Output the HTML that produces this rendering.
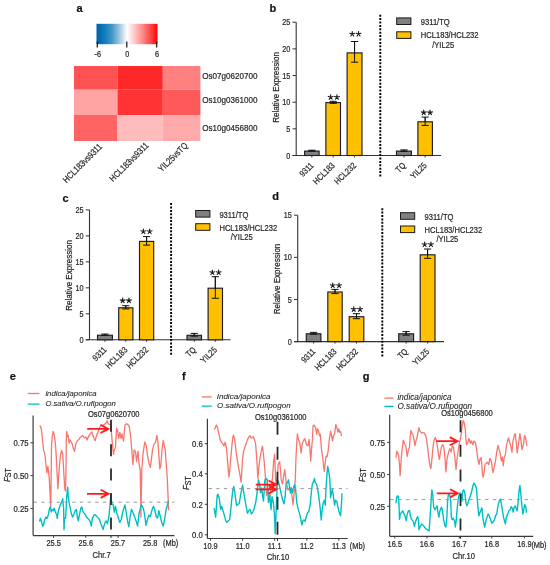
<!DOCTYPE html>
<html><head><meta charset="utf-8"><style>
html,body{margin:0;padding:0;background:#fff;width:550px;height:565px;overflow:hidden}
svg{display:block;font-family:"Liberation Sans", sans-serif;will-change:transform}
text{stroke:#262626;stroke-width:0.22px;paint-order:stroke}
.thin{stroke-width:0.08px}
</style></head><body>
<svg width="550" height="565" viewBox="0 0 550 565">
<rect width="550" height="565" fill="#fff"/>
<text x="76.40" y="11.60" font-size="11" text-anchor="start" font-weight="bold" font-style="normal" fill="#111" >a</text>
<text x="269.60" y="12.00" font-size="11" text-anchor="start" font-weight="bold" font-style="normal" fill="#111" >b</text>
<text x="62.60" y="201.60" font-size="11" text-anchor="start" font-weight="bold" font-style="normal" fill="#111" >c</text>
<text x="272.20" y="200.10" font-size="11" text-anchor="start" font-weight="bold" font-style="normal" fill="#111" >d</text>
<text x="9.80" y="379.50" font-size="11" text-anchor="start" font-weight="bold" font-style="normal" fill="#111" >e</text>
<text x="182.00" y="379.50" font-size="11" text-anchor="start" font-weight="bold" font-style="normal" fill="#111" >f</text>
<text x="362.70" y="379.50" font-size="11" text-anchor="start" font-weight="bold" font-style="normal" fill="#111" >g</text>
<defs><linearGradient id="cb" x1="0" x2="1" y1="0" y2="0"><stop offset="0" stop-color="#005fa8"/><stop offset="0.12" stop-color="#0b7ab8"/><stop offset="0.25" stop-color="#4296c6"/><stop offset="0.37" stop-color="#98c3dd"/><stop offset="0.45" stop-color="#d8e9f2"/><stop offset="0.5" stop-color="#ffffff"/><stop offset="0.6" stop-color="#ffd2d2"/><stop offset="0.75" stop-color="#ff8c8c"/><stop offset="0.9" stop-color="#ff4040"/><stop offset="1" stop-color="#ff0000"/></linearGradient></defs>
<rect x="96.50" y="23.80" width="61.00" height="20.40" fill="url(#cb)" stroke="none" stroke-width="1.0" />
<line x1="97.30" y1="41.60" x2="97.30" y2="47.40" stroke="#111" stroke-width="1.2" />
<text transform="translate(97.70,56.50) scale(0.8333,1)" font-size="8.76" text-anchor="middle" font-weight="normal" font-style="normal" fill="#262626" >-6</text>
<line x1="126.80" y1="41.60" x2="126.80" y2="47.40" stroke="#111" stroke-width="1.2" />
<text transform="translate(127.20,56.50) scale(0.8333,1)" font-size="8.76" text-anchor="middle" font-weight="normal" font-style="normal" fill="#262626" >0</text>
<line x1="156.70" y1="41.60" x2="156.70" y2="47.40" stroke="#111" stroke-width="1.2" />
<text transform="translate(157.10,56.50) scale(0.8333,1)" font-size="8.76" text-anchor="middle" font-weight="normal" font-style="normal" fill="#262626" >6</text>
<rect x="74.00" y="66.00" width="43.50" height="23.70" fill="#ff5252" stroke="none" stroke-width="1.0" />
<rect x="117.50" y="66.00" width="45.30" height="23.70" fill="#ff2828" stroke="none" stroke-width="1.0" />
<rect x="162.80" y="66.00" width="37.60" height="23.70" fill="#ff8080" stroke="none" stroke-width="1.0" />
<rect x="74.00" y="89.70" width="43.50" height="25.30" fill="#ffa3a3" stroke="none" stroke-width="1.0" />
<rect x="117.50" y="89.70" width="45.30" height="25.30" fill="#ff3333" stroke="none" stroke-width="1.0" />
<rect x="162.80" y="89.70" width="37.60" height="25.30" fill="#ff5a5a" stroke="none" stroke-width="1.0" />
<rect x="74.00" y="115.00" width="43.50" height="26.00" fill="#ff6464" stroke="none" stroke-width="1.0" />
<rect x="117.50" y="115.00" width="45.30" height="26.00" fill="#ffbcbc" stroke="none" stroke-width="1.0" />
<rect x="162.80" y="115.00" width="37.60" height="26.00" fill="#ffaaaa" stroke="none" stroke-width="1.0" />
<text transform="translate(202.20,79.10) scale(0.8333,1)" font-size="9.72" text-anchor="start" font-weight="normal" font-style="normal" fill="#262626" >Os07g0620700</text>
<text transform="translate(202.20,102.70) scale(0.8333,1)" font-size="9.72" text-anchor="start" font-weight="normal" font-style="normal" fill="#262626" >Os10g0361000</text>
<text transform="translate(202.20,130.50) scale(0.8333,1)" font-size="9.72" text-anchor="start" font-weight="normal" font-style="normal" fill="#262626" >Os10g0456800</text>
<text transform="translate(102.60,147.30) rotate(-45) scale(0.8333,1)" font-size="9.00" text-anchor="end" fill="#262626">HCL183vs9311</text>
<text transform="translate(149.20,146.10) rotate(-45) scale(0.8333,1)" font-size="9.00" text-anchor="end" fill="#262626">HCL183vs9311</text>
<text transform="translate(188.30,146.10) rotate(-45) scale(0.8333,1)" font-size="9.00" text-anchor="end" fill="#262626">YIL25vsTQ</text>
<line x1="296.20" y1="22.25" x2="296.20" y2="155.50" stroke="#333" stroke-width="1.1" />
<line x1="292.50" y1="22.25" x2="296.20" y2="22.25" stroke="#333" stroke-width="1.0" />
<text transform="translate(290.30,25.35) scale(0.8333,1)" font-size="8.76" text-anchor="end" font-weight="normal" font-style="normal" fill="#262626" >25</text>
<line x1="292.50" y1="48.90" x2="296.20" y2="48.90" stroke="#333" stroke-width="1.0" />
<text transform="translate(290.30,52.00) scale(0.8333,1)" font-size="8.76" text-anchor="end" font-weight="normal" font-style="normal" fill="#262626" >20</text>
<line x1="292.50" y1="75.55" x2="296.20" y2="75.55" stroke="#333" stroke-width="1.0" />
<text transform="translate(290.30,78.65) scale(0.8333,1)" font-size="8.76" text-anchor="end" font-weight="normal" font-style="normal" fill="#262626" >15</text>
<line x1="292.50" y1="102.20" x2="296.20" y2="102.20" stroke="#333" stroke-width="1.0" />
<text transform="translate(290.30,105.30) scale(0.8333,1)" font-size="8.76" text-anchor="end" font-weight="normal" font-style="normal" fill="#262626" >10</text>
<line x1="292.50" y1="128.85" x2="296.20" y2="128.85" stroke="#333" stroke-width="1.0" />
<text transform="translate(290.30,131.95) scale(0.8333,1)" font-size="8.76" text-anchor="end" font-weight="normal" font-style="normal" fill="#262626" >5</text>
<line x1="292.50" y1="155.50" x2="296.20" y2="155.50" stroke="#333" stroke-width="1.0" />
<text transform="translate(290.30,158.60) scale(0.8333,1)" font-size="8.76" text-anchor="end" font-weight="normal" font-style="normal" fill="#262626" >0</text>
<line x1="292.50" y1="155.50" x2="441.20" y2="155.50" stroke="#333" stroke-width="1.1" />
<text transform="translate(278.60,87.40) rotate(-90) scale(0.8333,1)" font-size="9.60" text-anchor="middle" fill="#262626">Relative Expression</text>
<line x1="380.30" y1="14.70" x2="380.30" y2="176.70" stroke="#000" stroke-width="1.9" stroke-dasharray="2.0 1.4"/>
<line x1="311.85" y1="150.20" x2="311.85" y2="151.20" stroke="#111" stroke-width="1.0" />
<line x1="308.25" y1="150.20" x2="315.45" y2="150.20" stroke="#111" stroke-width="1.0" />
<line x1="308.25" y1="151.20" x2="315.45" y2="151.20" stroke="#111" stroke-width="1.0" />
<rect x="304.60" y="151.10" width="14.50" height="4.40" fill="#808080" stroke="#1c1c2c" stroke-width="1.15" />
<line x1="311.85" y1="150.20" x2="311.85" y2="151.20" stroke="#111" stroke-width="1.0" />
<line x1="308.25" y1="151.20" x2="315.45" y2="151.20" stroke="#111" stroke-width="1.0" />
<line x1="311.85" y1="155.50" x2="311.85" y2="157.50" stroke="#333" stroke-width="1.0" />
<text transform="translate(314.05,166.10) rotate(-45) scale(0.8333,1)" font-size="8.76" text-anchor="end" fill="#262626">9311</text>
<line x1="333.20" y1="101.30" x2="333.20" y2="103.30" stroke="#111" stroke-width="1.0" />
<line x1="329.60" y1="101.30" x2="336.80" y2="101.30" stroke="#111" stroke-width="1.0" />
<line x1="329.60" y1="103.30" x2="336.80" y2="103.30" stroke="#111" stroke-width="1.0" />
<rect x="325.90" y="102.60" width="14.60" height="52.90" fill="#ffc000" stroke="#1c1c2c" stroke-width="1.15" />
<line x1="333.20" y1="101.30" x2="333.20" y2="103.30" stroke="#111" stroke-width="1.0" />
<line x1="329.60" y1="103.30" x2="336.80" y2="103.30" stroke="#111" stroke-width="1.0" />
<line x1="333.20" y1="155.50" x2="333.20" y2="157.50" stroke="#333" stroke-width="1.0" />
<text transform="translate(335.40,166.10) rotate(-45) scale(0.8333,1)" font-size="8.76" text-anchor="end" fill="#262626">HCL183</text>
<path d="M330.65,97.20L330.65,94.70M330.65,97.20L333.03,96.43M330.65,97.20L332.12,99.22M330.65,97.20L329.18,99.22M330.65,97.20L328.27,96.43" stroke="#1a1a1a" stroke-width="1.15" stroke-linecap="round" fill="none"/>
<path d="M336.95,97.20L336.95,94.70M336.95,97.20L339.33,96.43M336.95,97.20L338.42,99.22M336.95,97.20L335.48,99.22M336.95,97.20L334.57,96.43" stroke="#1a1a1a" stroke-width="1.15" stroke-linecap="round" fill="none"/>
<line x1="354.55" y1="41.50" x2="354.55" y2="62.20" stroke="#111" stroke-width="1.0" />
<line x1="350.95" y1="41.50" x2="358.15" y2="41.50" stroke="#111" stroke-width="1.0" />
<line x1="350.95" y1="62.20" x2="358.15" y2="62.20" stroke="#111" stroke-width="1.0" />
<rect x="347.10" y="52.90" width="14.90" height="102.60" fill="#ffc000" stroke="#1c1c2c" stroke-width="1.15" />
<line x1="354.55" y1="41.50" x2="354.55" y2="62.20" stroke="#111" stroke-width="1.0" />
<line x1="350.95" y1="62.20" x2="358.15" y2="62.20" stroke="#111" stroke-width="1.0" />
<line x1="354.55" y1="155.50" x2="354.55" y2="157.50" stroke="#333" stroke-width="1.0" />
<text transform="translate(356.75,166.10) rotate(-45) scale(0.8333,1)" font-size="8.76" text-anchor="end" fill="#262626">HCL232</text>
<path d="M352.25,34.00L352.25,31.50M352.25,34.00L354.63,33.23M352.25,34.00L353.72,36.02M352.25,34.00L350.78,36.02M352.25,34.00L349.87,33.23" stroke="#1a1a1a" stroke-width="1.15" stroke-linecap="round" fill="none"/>
<path d="M358.55,34.00L358.55,31.50M358.55,34.00L360.93,33.23M358.55,34.00L360.02,36.02M358.55,34.00L357.08,36.02M358.55,34.00L356.17,33.23" stroke="#1a1a1a" stroke-width="1.15" stroke-linecap="round" fill="none"/>
<line x1="403.95" y1="149.90" x2="403.95" y2="151.30" stroke="#111" stroke-width="1.0" />
<line x1="400.35" y1="149.90" x2="407.55" y2="149.90" stroke="#111" stroke-width="1.0" />
<line x1="400.35" y1="151.30" x2="407.55" y2="151.30" stroke="#111" stroke-width="1.0" />
<rect x="396.50" y="151.10" width="14.90" height="4.40" fill="#808080" stroke="#1c1c2c" stroke-width="1.15" />
<line x1="403.95" y1="149.90" x2="403.95" y2="151.30" stroke="#111" stroke-width="1.0" />
<line x1="400.35" y1="151.30" x2="407.55" y2="151.30" stroke="#111" stroke-width="1.0" />
<line x1="403.95" y1="155.50" x2="403.95" y2="157.50" stroke="#333" stroke-width="1.0" />
<text transform="translate(406.15,166.10) rotate(-45) scale(0.8333,1)" font-size="8.76" text-anchor="end" fill="#262626">TQ</text>
<line x1="425.15" y1="117.10" x2="425.15" y2="125.40" stroke="#111" stroke-width="1.0" />
<line x1="421.55" y1="117.10" x2="428.75" y2="117.10" stroke="#111" stroke-width="1.0" />
<line x1="421.55" y1="125.40" x2="428.75" y2="125.40" stroke="#111" stroke-width="1.0" />
<rect x="417.90" y="121.80" width="14.50" height="33.70" fill="#ffc000" stroke="#1c1c2c" stroke-width="1.15" />
<line x1="425.15" y1="117.10" x2="425.15" y2="125.40" stroke="#111" stroke-width="1.0" />
<line x1="421.55" y1="125.40" x2="428.75" y2="125.40" stroke="#111" stroke-width="1.0" />
<line x1="425.15" y1="155.50" x2="425.15" y2="157.50" stroke="#333" stroke-width="1.0" />
<text transform="translate(427.35,166.10) rotate(-45) scale(0.8333,1)" font-size="8.76" text-anchor="end" fill="#262626">YIL25</text>
<path d="M423.75,112.60L423.75,110.10M423.75,112.60L426.13,111.83M423.75,112.60L425.22,114.62M423.75,112.60L422.28,114.62M423.75,112.60L421.37,111.83" stroke="#1a1a1a" stroke-width="1.15" stroke-linecap="round" fill="none"/>
<path d="M430.05,112.60L430.05,110.10M430.05,112.60L432.43,111.83M430.05,112.60L431.52,114.62M430.05,112.60L428.58,114.62M430.05,112.60L427.67,111.83" stroke="#1a1a1a" stroke-width="1.15" stroke-linecap="round" fill="none"/>
<rect x="396.70" y="17.90" width="14.20" height="6.60" fill="#808080" stroke="#1a1a1a" stroke-width="1.0" />
<rect x="396.70" y="31.80" width="14.20" height="6.60" fill="#ffc000" stroke="#1a1a1a" stroke-width="1.0" />
<text transform="translate(420.80,24.50) scale(0.8333,1)" font-size="9.12" text-anchor="start" font-weight="normal" font-style="normal" fill="#262626" >9311/TQ</text>
<text transform="translate(420.80,38.20) scale(0.8333,1)" font-size="9.12" text-anchor="start" font-weight="normal" font-style="normal" fill="#262626" >HCL183/HCL232</text>
<text transform="translate(432.20,47.60) scale(0.8333,1)" font-size="9.12" text-anchor="start" font-weight="normal" font-style="normal" fill="#262626" >/YIL25</text>
<line x1="89.50" y1="209.90" x2="89.50" y2="339.80" stroke="#333" stroke-width="1.1" />
<line x1="85.80" y1="209.90" x2="89.50" y2="209.90" stroke="#333" stroke-width="1.0" />
<text transform="translate(83.60,213.00) scale(0.8333,1)" font-size="8.76" text-anchor="end" font-weight="normal" font-style="normal" fill="#262626" >25</text>
<line x1="85.80" y1="235.88" x2="89.50" y2="235.88" stroke="#333" stroke-width="1.0" />
<text transform="translate(83.60,238.98) scale(0.8333,1)" font-size="8.76" text-anchor="end" font-weight="normal" font-style="normal" fill="#262626" >20</text>
<line x1="85.80" y1="261.86" x2="89.50" y2="261.86" stroke="#333" stroke-width="1.0" />
<text transform="translate(83.60,264.96) scale(0.8333,1)" font-size="8.76" text-anchor="end" font-weight="normal" font-style="normal" fill="#262626" >15</text>
<line x1="85.80" y1="287.84" x2="89.50" y2="287.84" stroke="#333" stroke-width="1.0" />
<text transform="translate(83.60,290.94) scale(0.8333,1)" font-size="8.76" text-anchor="end" font-weight="normal" font-style="normal" fill="#262626" >10</text>
<line x1="85.80" y1="313.82" x2="89.50" y2="313.82" stroke="#333" stroke-width="1.0" />
<text transform="translate(83.60,316.92) scale(0.8333,1)" font-size="8.76" text-anchor="end" font-weight="normal" font-style="normal" fill="#262626" >5</text>
<line x1="85.80" y1="339.80" x2="89.50" y2="339.80" stroke="#333" stroke-width="1.0" />
<text transform="translate(83.60,342.90) scale(0.8333,1)" font-size="8.76" text-anchor="end" font-weight="normal" font-style="normal" fill="#262626" >0</text>
<line x1="85.80" y1="339.80" x2="230.60" y2="339.80" stroke="#333" stroke-width="1.1" />
<text transform="translate(71.80,275.40) rotate(-90) scale(0.8333,1)" font-size="9.60" text-anchor="middle" fill="#262626">Relative Expression</text>
<line x1="171.10" y1="203.10" x2="171.10" y2="355.80" stroke="#000" stroke-width="1.9" stroke-dasharray="2.0 1.4"/>
<line x1="104.95" y1="334.00" x2="104.95" y2="335.40" stroke="#111" stroke-width="1.0" />
<line x1="101.35" y1="334.00" x2="108.55" y2="334.00" stroke="#111" stroke-width="1.0" />
<line x1="101.35" y1="335.40" x2="108.55" y2="335.40" stroke="#111" stroke-width="1.0" />
<rect x="97.50" y="335.20" width="14.90" height="4.60" fill="#808080" stroke="#1c1c2c" stroke-width="1.15" />
<line x1="104.95" y1="334.00" x2="104.95" y2="335.40" stroke="#111" stroke-width="1.0" />
<line x1="101.35" y1="335.40" x2="108.55" y2="335.40" stroke="#111" stroke-width="1.0" />
<line x1="104.95" y1="339.80" x2="104.95" y2="341.80" stroke="#333" stroke-width="1.0" />
<text transform="translate(107.15,350.40) rotate(-45) scale(0.8333,1)" font-size="8.76" text-anchor="end" fill="#262626">9311</text>
<line x1="125.80" y1="305.70" x2="125.80" y2="308.90" stroke="#111" stroke-width="1.0" />
<line x1="122.20" y1="305.70" x2="129.40" y2="305.70" stroke="#111" stroke-width="1.0" />
<line x1="122.20" y1="308.90" x2="129.40" y2="308.90" stroke="#111" stroke-width="1.0" />
<rect x="118.70" y="307.80" width="14.20" height="32.00" fill="#ffc000" stroke="#1c1c2c" stroke-width="1.15" />
<line x1="125.80" y1="305.70" x2="125.80" y2="308.90" stroke="#111" stroke-width="1.0" />
<line x1="122.20" y1="308.90" x2="129.40" y2="308.90" stroke="#111" stroke-width="1.0" />
<line x1="125.80" y1="339.80" x2="125.80" y2="341.80" stroke="#333" stroke-width="1.0" />
<text transform="translate(128.00,350.40) rotate(-45) scale(0.8333,1)" font-size="8.76" text-anchor="end" fill="#262626">HCL183</text>
<path d="M122.65,300.60L122.65,298.10M122.65,300.60L125.03,299.83M122.65,300.60L124.12,302.62M122.65,300.60L121.18,302.62M122.65,300.60L120.27,299.83" stroke="#1a1a1a" stroke-width="1.15" stroke-linecap="round" fill="none"/>
<path d="M128.95,300.60L128.95,298.10M128.95,300.60L131.33,299.83M128.95,300.60L130.42,302.62M128.95,300.60L127.48,302.62M128.95,300.60L126.57,299.83" stroke="#1a1a1a" stroke-width="1.15" stroke-linecap="round" fill="none"/>
<line x1="146.60" y1="236.60" x2="146.60" y2="245.10" stroke="#111" stroke-width="1.0" />
<line x1="143.00" y1="236.60" x2="150.20" y2="236.60" stroke="#111" stroke-width="1.0" />
<line x1="143.00" y1="245.10" x2="150.20" y2="245.10" stroke="#111" stroke-width="1.0" />
<rect x="139.50" y="241.40" width="14.20" height="98.40" fill="#ffc000" stroke="#1c1c2c" stroke-width="1.15" />
<line x1="146.60" y1="236.60" x2="146.60" y2="245.10" stroke="#111" stroke-width="1.0" />
<line x1="143.00" y1="245.10" x2="150.20" y2="245.10" stroke="#111" stroke-width="1.0" />
<line x1="146.60" y1="339.80" x2="146.60" y2="341.80" stroke="#333" stroke-width="1.0" />
<text transform="translate(148.80,350.40) rotate(-45) scale(0.8333,1)" font-size="8.76" text-anchor="end" fill="#262626">HCL232</text>
<path d="M143.35,231.50L143.35,229.00M143.35,231.50L145.73,230.73M143.35,231.50L144.82,233.52M143.35,231.50L141.88,233.52M143.35,231.50L140.97,230.73" stroke="#1a1a1a" stroke-width="1.15" stroke-linecap="round" fill="none"/>
<path d="M149.65,231.50L149.65,229.00M149.65,231.50L152.03,230.73M149.65,231.50L151.12,233.52M149.65,231.50L148.18,233.52M149.65,231.50L147.27,230.73" stroke="#1a1a1a" stroke-width="1.15" stroke-linecap="round" fill="none"/>
<line x1="194.25" y1="333.40" x2="194.25" y2="336.20" stroke="#111" stroke-width="1.0" />
<line x1="190.65" y1="333.40" x2="197.85" y2="333.40" stroke="#111" stroke-width="1.0" />
<line x1="190.65" y1="336.20" x2="197.85" y2="336.20" stroke="#111" stroke-width="1.0" />
<rect x="187.00" y="335.30" width="14.50" height="4.50" fill="#808080" stroke="#1c1c2c" stroke-width="1.15" />
<line x1="194.25" y1="333.40" x2="194.25" y2="336.20" stroke="#111" stroke-width="1.0" />
<line x1="190.65" y1="336.20" x2="197.85" y2="336.20" stroke="#111" stroke-width="1.0" />
<line x1="194.25" y1="339.80" x2="194.25" y2="341.80" stroke="#333" stroke-width="1.0" />
<text transform="translate(196.45,350.40) rotate(-45) scale(0.8333,1)" font-size="8.76" text-anchor="end" fill="#262626">TQ</text>
<line x1="215.30" y1="276.70" x2="215.30" y2="298.30" stroke="#111" stroke-width="1.0" />
<line x1="211.70" y1="276.70" x2="218.90" y2="276.70" stroke="#111" stroke-width="1.0" />
<line x1="211.70" y1="298.30" x2="218.90" y2="298.30" stroke="#111" stroke-width="1.0" />
<rect x="208.10" y="288.20" width="14.40" height="51.60" fill="#ffc000" stroke="#1c1c2c" stroke-width="1.15" />
<line x1="215.30" y1="276.70" x2="215.30" y2="298.30" stroke="#111" stroke-width="1.0" />
<line x1="211.70" y1="298.30" x2="218.90" y2="298.30" stroke="#111" stroke-width="1.0" />
<line x1="215.30" y1="339.80" x2="215.30" y2="341.80" stroke="#333" stroke-width="1.0" />
<text transform="translate(217.50,350.40) rotate(-45) scale(0.8333,1)" font-size="8.76" text-anchor="end" fill="#262626">YIL25</text>
<path d="M212.35,272.50L212.35,270.00M212.35,272.50L214.73,271.73M212.35,272.50L213.82,274.52M212.35,272.50L210.88,274.52M212.35,272.50L209.97,271.73" stroke="#1a1a1a" stroke-width="1.15" stroke-linecap="round" fill="none"/>
<path d="M218.65,272.50L218.65,270.00M218.65,272.50L221.03,271.73M218.65,272.50L220.12,274.52M218.65,272.50L217.18,274.52M218.65,272.50L216.27,271.73" stroke="#1a1a1a" stroke-width="1.15" stroke-linecap="round" fill="none"/>
<rect x="195.70" y="210.50" width="14.20" height="6.60" fill="#808080" stroke="#1a1a1a" stroke-width="1.0" />
<rect x="195.70" y="223.70" width="14.20" height="6.60" fill="#ffc000" stroke="#1a1a1a" stroke-width="1.0" />
<text transform="translate(219.40,217.60) scale(0.8333,1)" font-size="9.12" text-anchor="start" font-weight="normal" font-style="normal" fill="#262626" >9311/TQ</text>
<text transform="translate(219.40,230.70) scale(0.8333,1)" font-size="9.12" text-anchor="start" font-weight="normal" font-style="normal" fill="#262626" >HCL183/HCL232</text>
<text transform="translate(230.70,239.80) scale(0.8333,1)" font-size="9.12" text-anchor="start" font-weight="normal" font-style="normal" fill="#262626" >/YIL25</text>
<line x1="297.70" y1="215.20" x2="297.70" y2="341.60" stroke="#333" stroke-width="1.1" />
<line x1="294.00" y1="215.20" x2="297.70" y2="215.20" stroke="#333" stroke-width="1.0" />
<text transform="translate(291.80,218.30) scale(0.8333,1)" font-size="8.76" text-anchor="end" font-weight="normal" font-style="normal" fill="#262626" >15</text>
<line x1="294.00" y1="257.33" x2="297.70" y2="257.33" stroke="#333" stroke-width="1.0" />
<text transform="translate(291.80,260.43) scale(0.8333,1)" font-size="8.76" text-anchor="end" font-weight="normal" font-style="normal" fill="#262626" >10</text>
<line x1="294.00" y1="299.47" x2="297.70" y2="299.47" stroke="#333" stroke-width="1.0" />
<text transform="translate(291.80,302.57) scale(0.8333,1)" font-size="8.76" text-anchor="end" font-weight="normal" font-style="normal" fill="#262626" >5</text>
<line x1="294.00" y1="341.60" x2="297.70" y2="341.60" stroke="#333" stroke-width="1.0" />
<text transform="translate(291.80,344.70) scale(0.8333,1)" font-size="8.76" text-anchor="end" font-weight="normal" font-style="normal" fill="#262626" >0</text>
<line x1="294.00" y1="341.60" x2="444.00" y2="341.60" stroke="#333" stroke-width="1.1" />
<text transform="translate(280.30,279.00) rotate(-90) scale(0.8333,1)" font-size="9.60" text-anchor="middle" fill="#262626">Relative Expression</text>
<line x1="382.30" y1="208.20" x2="382.30" y2="356.70" stroke="#000" stroke-width="1.9" stroke-dasharray="2.0 1.4"/>
<line x1="313.60" y1="332.40" x2="313.60" y2="334.20" stroke="#111" stroke-width="1.0" />
<line x1="310.00" y1="332.40" x2="317.20" y2="332.40" stroke="#111" stroke-width="1.0" />
<line x1="310.00" y1="334.20" x2="317.20" y2="334.20" stroke="#111" stroke-width="1.0" />
<rect x="306.30" y="333.80" width="14.60" height="7.80" fill="#808080" stroke="#1c1c2c" stroke-width="1.15" />
<line x1="313.60" y1="332.40" x2="313.60" y2="334.20" stroke="#111" stroke-width="1.0" />
<line x1="310.00" y1="334.20" x2="317.20" y2="334.20" stroke="#111" stroke-width="1.0" />
<line x1="313.60" y1="341.60" x2="313.60" y2="343.60" stroke="#333" stroke-width="1.0" />
<text transform="translate(315.80,352.20) rotate(-45) scale(0.8333,1)" font-size="8.76" text-anchor="end" fill="#262626">9311</text>
<line x1="335.00" y1="289.40" x2="335.00" y2="293.60" stroke="#111" stroke-width="1.0" />
<line x1="331.40" y1="289.40" x2="338.60" y2="289.40" stroke="#111" stroke-width="1.0" />
<line x1="331.40" y1="293.60" x2="338.60" y2="293.60" stroke="#111" stroke-width="1.0" />
<rect x="327.80" y="292.00" width="14.40" height="49.60" fill="#ffc000" stroke="#1c1c2c" stroke-width="1.15" />
<line x1="335.00" y1="289.40" x2="335.00" y2="293.60" stroke="#111" stroke-width="1.0" />
<line x1="331.40" y1="293.60" x2="338.60" y2="293.60" stroke="#111" stroke-width="1.0" />
<line x1="335.00" y1="341.60" x2="335.00" y2="343.60" stroke="#333" stroke-width="1.0" />
<text transform="translate(337.20,352.20) rotate(-45) scale(0.8333,1)" font-size="8.76" text-anchor="end" fill="#262626">HCL183</text>
<path d="M332.75,285.50L332.75,283.00M332.75,285.50L335.13,284.73M332.75,285.50L334.22,287.52M332.75,285.50L331.28,287.52M332.75,285.50L330.37,284.73" stroke="#1a1a1a" stroke-width="1.15" stroke-linecap="round" fill="none"/>
<path d="M339.05,285.50L339.05,283.00M339.05,285.50L341.43,284.73M339.05,285.50L340.52,287.52M339.05,285.50L337.58,287.52M339.05,285.50L336.67,284.73" stroke="#1a1a1a" stroke-width="1.15" stroke-linecap="round" fill="none"/>
<line x1="356.50" y1="313.70" x2="356.50" y2="318.70" stroke="#111" stroke-width="1.0" />
<line x1="352.90" y1="313.70" x2="360.10" y2="313.70" stroke="#111" stroke-width="1.0" />
<line x1="352.90" y1="318.70" x2="360.10" y2="318.70" stroke="#111" stroke-width="1.0" />
<rect x="349.20" y="316.70" width="14.60" height="24.90" fill="#ffc000" stroke="#1c1c2c" stroke-width="1.15" />
<line x1="356.50" y1="313.70" x2="356.50" y2="318.70" stroke="#111" stroke-width="1.0" />
<line x1="352.90" y1="318.70" x2="360.10" y2="318.70" stroke="#111" stroke-width="1.0" />
<line x1="356.50" y1="341.60" x2="356.50" y2="343.60" stroke="#333" stroke-width="1.0" />
<text transform="translate(358.70,352.20) rotate(-45) scale(0.8333,1)" font-size="8.76" text-anchor="end" fill="#262626">HCL232</text>
<path d="M353.75,309.30L353.75,306.80M353.75,309.30L356.13,308.53M353.75,309.30L355.22,311.32M353.75,309.30L352.28,311.32M353.75,309.30L351.37,308.53" stroke="#1a1a1a" stroke-width="1.15" stroke-linecap="round" fill="none"/>
<path d="M360.05,309.30L360.05,306.80M360.05,309.30L362.43,308.53M360.05,309.30L361.52,311.32M360.05,309.30L358.58,311.32M360.05,309.30L357.67,308.53" stroke="#1a1a1a" stroke-width="1.15" stroke-linecap="round" fill="none"/>
<line x1="406.15" y1="331.60" x2="406.15" y2="335.20" stroke="#111" stroke-width="1.0" />
<line x1="402.55" y1="331.60" x2="409.75" y2="331.60" stroke="#111" stroke-width="1.0" />
<line x1="402.55" y1="335.20" x2="409.75" y2="335.20" stroke="#111" stroke-width="1.0" />
<rect x="398.70" y="333.80" width="14.90" height="7.80" fill="#808080" stroke="#1c1c2c" stroke-width="1.15" />
<line x1="406.15" y1="331.60" x2="406.15" y2="335.20" stroke="#111" stroke-width="1.0" />
<line x1="402.55" y1="335.20" x2="409.75" y2="335.20" stroke="#111" stroke-width="1.0" />
<line x1="406.15" y1="341.60" x2="406.15" y2="343.60" stroke="#333" stroke-width="1.0" />
<text transform="translate(408.35,352.20) rotate(-45) scale(0.8333,1)" font-size="8.76" text-anchor="end" fill="#262626">TQ</text>
<line x1="427.60" y1="249.00" x2="427.60" y2="258.30" stroke="#111" stroke-width="1.0" />
<line x1="424.00" y1="249.00" x2="431.20" y2="249.00" stroke="#111" stroke-width="1.0" />
<line x1="424.00" y1="258.30" x2="431.20" y2="258.30" stroke="#111" stroke-width="1.0" />
<rect x="420.20" y="254.80" width="14.80" height="86.80" fill="#ffc000" stroke="#1c1c2c" stroke-width="1.15" />
<line x1="427.60" y1="249.00" x2="427.60" y2="258.30" stroke="#111" stroke-width="1.0" />
<line x1="424.00" y1="258.30" x2="431.20" y2="258.30" stroke="#111" stroke-width="1.0" />
<line x1="427.60" y1="341.60" x2="427.60" y2="343.60" stroke="#333" stroke-width="1.0" />
<text transform="translate(429.80,352.20) rotate(-45) scale(0.8333,1)" font-size="8.76" text-anchor="end" fill="#262626">YIL25</text>
<path d="M424.65,244.50L424.65,242.00M424.65,244.50L427.03,243.73M424.65,244.50L426.12,246.52M424.65,244.50L423.18,246.52M424.65,244.50L422.27,243.73" stroke="#1a1a1a" stroke-width="1.15" stroke-linecap="round" fill="none"/>
<path d="M430.95,244.50L430.95,242.00M430.95,244.50L433.33,243.73M430.95,244.50L432.42,246.52M430.95,244.50L429.48,246.52M430.95,244.50L428.57,243.73" stroke="#1a1a1a" stroke-width="1.15" stroke-linecap="round" fill="none"/>
<rect x="400.50" y="212.70" width="14.20" height="6.60" fill="#808080" stroke="#1a1a1a" stroke-width="1.0" />
<rect x="400.50" y="226.00" width="14.20" height="6.60" fill="#ffc000" stroke="#1a1a1a" stroke-width="1.0" />
<text transform="translate(424.50,219.80) scale(0.8333,1)" font-size="9.12" text-anchor="start" font-weight="normal" font-style="normal" fill="#262626" >9311/TQ</text>
<text transform="translate(424.50,232.80) scale(0.8333,1)" font-size="9.12" text-anchor="start" font-weight="normal" font-style="normal" fill="#262626" >HCL183/HCL232</text>
<text transform="translate(436.40,241.90) scale(0.8333,1)" font-size="9.12" text-anchor="start" font-weight="normal" font-style="normal" fill="#262626" >/YIL25</text>
<polyline points="39.6,426.6 40.3,426.0 41.4,429.5 42.6,440.5 43.6,450.5 44.5,452.5 45.2,457.0 46.8,472.8 47.9,466.4 49.2,477.6 50.4,500.0 50.7,506.5 51.0,490.0 51.5,445.7 52.3,436.0 53.1,431.4 54.1,434.5 54.7,437.7 55.5,445.0 56.3,456.9 57.2,475.0 57.9,488.7 58.7,475.0 59.5,464.8 60.5,455.5 61.6,450.5 62.7,453.7 63.8,472.8 64.8,488.7 65.5,491.0 66.0,470.0 66.3,440.0 66.7,431.4 67.5,436.6 68.1,435.4 69.1,443.0 70.0,439.8 71.9,443.0 73.2,448.1 74.5,451.3 75.5,445.5 76.4,442.4 77.6,440.5 78.9,439.8 80.2,437.3 81.5,436.6 82.7,435.4 84.0,437.3 85.0,437.8 86.1,437.1 87.2,440.0 88.3,437.1 89.4,434.9 90.5,433.5 91.9,432.0 93.0,435.6 94.1,438.5 95.2,440.7 96.3,436.4 97.4,433.5 98.5,430.5 99.5,427.6 100.6,425.5 102.0,425.5 103.9,424.7 105.4,423.6 106.5,422.5 107.2,420.7 107.9,423.3 109.0,424.4 110.1,424.7 110.8,425.5 111.5,433.5 112.3,442.9 113.0,450.0 113.5,454.3 114.0,451.4 115.5,447.0 116.6,428.1 117.6,431.0 118.7,438.3 119.8,432.5 121.0,438.3 122.0,433.9 123.5,441.2 124.9,425.2 126.4,423.7 127.8,424.5 129.3,426.6 130.7,436.8 132.2,455.7 132.9,464.5 134.1,449.9 135.5,451.4 136.5,461.5 138.0,451.4 139.0,463.0 140.2,470.3 140.6,490.0 140.9,517.3 141.3,495.0 141.8,470.0 143.1,452.8 144.8,441.9 146.3,445.5 147.5,455.7 148.9,463.0 150.4,467.4 151.5,458.6 152.5,449.9 154.0,444.1 155.5,442.6 156.9,435.4 157.9,441.9 159.1,458.6 159.8,468.8 160.8,465.9 162.0,449.9 163.2,440.5 164.2,445.5 165.2,449.9 166.4,465.9 167.1,475.0 167.8,490.0 168.3,502.0 168.5,510.5" fill="none" stroke="#F8766D" stroke-width="1.3" stroke-linejoin="round"/>
<polyline points="39.5,521.5 40.3,518.4 41.4,520.9 42.6,526.0 43.7,524.7 44.5,520.3 45.8,517.1 47.1,518.4 48.4,514.5 49.6,508.2 50.5,506.9 51.3,512.0 52.6,509.5 53.5,510.7 54.1,508.2 55.4,512.0 56.6,514.5 57.3,518.4 58.2,512.0 59.2,508.2 60.5,504.4 61.7,501.8 62.7,498.6 63.6,508.2 64.0,529.8 64.5,518.4 65.5,518.4 66.2,508.2 66.8,495.5 67.7,487.2 68.3,496.7 69.1,503.1 70.0,506.9 71.3,513.3 72.5,517.1 73.8,514.5 75.1,510.7 76.4,509.5 77.6,518.4 78.3,520.9 79.5,514.5 80.8,508.2 81.8,506.9 82.7,510.7 84.0,513.3 85.3,514.5 86.5,517.1 87.8,518.4 89.1,519.6 90.4,522.2 91.3,526.0 92.3,518.4 93.5,515.8 94.8,514.5 96.1,515.8 97.4,517.1 98.6,518.4 99.5,519.5 100.9,523.8 103.1,529.6 104.5,523.8 106.0,520.9 107.5,523.8 108.9,516.5 109.9,506.4 110.8,494.7 111.8,503.5 113.3,504.9 114.3,512.2 115.5,506.4 116.6,512.2 118.4,518.0 119.8,522.4 121.3,519.5 122.7,512.2 124.9,504.9 126.4,513.6 127.8,522.4 128.8,526.7 130.0,518.0 131.5,509.3 132.9,512.2 134.4,516.5 136.1,520.9 137.6,526.0 139.0,513.6 141.3,504.9 143.1,507.8 144.5,513.6 146.0,525.3 147.5,519.5 148.9,515.1 150.4,516.5 151.8,510.7 153.3,506.4 154.7,509.3 156.2,516.5 157.6,518.0 158.8,510.7 160.3,516.5 161.7,522.4 163.2,526.0 164.6,519.5 166.1,509.3 167.5,504.9 168.5,500.5" fill="none" stroke="#00BFC4" stroke-width="1.4" stroke-linejoin="round"/>
<line x1="33.10" y1="502.20" x2="174.50" y2="502.20" stroke="#9a9a9a" stroke-width="1.0" stroke-dasharray="3.39 4.31" stroke-dashoffset="-0.50"/>
<line x1="111.00" y1="419.80" x2="111.00" y2="535.00" stroke="#2a2a2a" stroke-width="1.8" stroke-dasharray="12 12.4"/>
<line x1="33.10" y1="415.50" x2="33.10" y2="535.60" stroke="#3a3a3a" stroke-width="1.2" />
<line x1="33.10" y1="535.60" x2="174.50" y2="535.60" stroke="#3a3a3a" stroke-width="1.2" />
<line x1="30.50" y1="442.80" x2="33.10" y2="442.80" stroke="#3a3a3a" stroke-width="1.0" />
<text transform="translate(28.50,446.30) scale(0.8333,1)" font-size="9.24" text-anchor="end" font-weight="normal" font-style="normal" fill="#262626" >0.75</text>
<line x1="30.50" y1="475.60" x2="33.10" y2="475.60" stroke="#3a3a3a" stroke-width="1.0" />
<text transform="translate(28.50,479.10) scale(0.8333,1)" font-size="9.24" text-anchor="end" font-weight="normal" font-style="normal" fill="#262626" >0.50</text>
<line x1="30.50" y1="508.50" x2="33.10" y2="508.50" stroke="#3a3a3a" stroke-width="1.0" />
<text transform="translate(28.50,512.00) scale(0.8333,1)" font-size="9.24" text-anchor="end" font-weight="normal" font-style="normal" fill="#262626" >0.25</text>
<line x1="111.00" y1="535.60" x2="111.00" y2="538.00" stroke="#2a2a2a" stroke-width="1.0" />
<line x1="53.60" y1="535.60" x2="53.60" y2="537.80" stroke="#3a3a3a" stroke-width="1.0" />
<text transform="translate(53.60,546.30) scale(0.8333,1)" font-size="8.88" text-anchor="middle" font-weight="normal" font-style="normal" fill="#262626" >25.5</text>
<line x1="85.80" y1="535.60" x2="85.80" y2="537.80" stroke="#3a3a3a" stroke-width="1.0" />
<text transform="translate(85.80,546.30) scale(0.8333,1)" font-size="8.88" text-anchor="middle" font-weight="normal" font-style="normal" fill="#262626" >25.6</text>
<line x1="118.00" y1="535.60" x2="118.00" y2="537.80" stroke="#3a3a3a" stroke-width="1.0" />
<text transform="translate(118.00,546.30) scale(0.8333,1)" font-size="8.88" text-anchor="middle" font-weight="normal" font-style="normal" fill="#262626" >25.7</text>
<line x1="150.20" y1="535.60" x2="150.20" y2="537.80" stroke="#3a3a3a" stroke-width="1.0" />
<text transform="translate(150.20,546.30) scale(0.8333,1)" font-size="8.88" text-anchor="middle" font-weight="normal" font-style="normal" fill="#262626" >25.8</text>
<text transform="translate(163.10,546.40) scale(0.8333,1)" font-size="8.88" text-anchor="start" font-weight="normal" font-style="normal" fill="#262626" >(Mb)</text>
<text transform="translate(101.60,558.20) scale(0.8333,1)" font-size="9.12" text-anchor="middle" font-weight="normal" font-style="normal" fill="#262626" >Chr.7</text>
<text transform="translate(9.60,482.00) rotate(-90) scale(0.8333,1)" font-size="9.36" fill="#262626"><tspan font-style="italic">F</tspan><tspan font-size="8.40" dy="1.8">ST</tspan></text>
<text transform="translate(88.00,417.40) scale(0.8333,1)" font-size="9.06" text-anchor="start" font-weight="normal" font-style="normal" fill="#262626" >Os07g0620700</text>
<line x1="27.70" y1="393.50" x2="39.50" y2="393.50" stroke="#F8766D" stroke-width="1.3" />
<line x1="27.70" y1="404.10" x2="39.50" y2="404.10" stroke="#00BFC4" stroke-width="1.3" />
<text x="45.40" y="395.60" font-size="7.75" text-anchor="start" font-weight="normal" font-style="italic" fill="#262626" class="thin">indica/japonica</text>
<text x="45.40" y="406.40" font-size="7.7" text-anchor="start" font-weight="normal" font-style="italic" fill="#262626" class="thin">O.sativa/O.rufipogon</text>
<path d="M87.20,428.90L107.50,428.90M100.50,424.80L108.30,428.90L100.50,433.00" fill="none" stroke="#ff1a1a" stroke-width="1.8"/>
<path d="M87.00,493.80L107.70,493.80M100.70,489.70L108.50,493.80L100.70,497.90" fill="none" stroke="#ff1a1a" stroke-width="1.8"/>
<polyline points="214.1,429.2 215.0,428.2 216.3,425.0 217.5,427.5 218.8,433.3 220.1,439.6 221.4,442.2 222.6,443.5 223.9,446.0 225.2,442.2 226.5,448.5 227.7,462.5 228.5,472.0 229.0,477.0 229.8,470.0 230.6,460.0 231.5,449.8 232.8,437.1 233.5,435.2 234.7,439.6 236.0,451.1 237.9,463.8 239.8,474.0 241.1,482.1 241.8,472.0 242.4,460.0 243.6,451.1 244.9,447.3 246.2,443.5 247.5,439.6 248.7,437.1 250.0,435.8 251.0,438.0 251.9,437.9 253.1,436.6 254.3,439.1 255.6,443.5 256.8,459.6 257.9,478.4 258.5,470.0 260.0,458.0 261.5,450.0 262.5,446.2 263.5,455.0 264.5,465.0 265.5,478.0 266.5,495.6 268.0,490.0 269.5,498.0 271.0,488.0 272.5,478.0 273.6,462.0 274.6,454.2 275.7,479.5 276.3,488.7 277.2,478.0 278.3,464.0 279.7,461.7 280.5,470.0 281.2,479.5 282.5,484.0 283.8,475.0 284.7,469.7 285.5,476.0 286.1,481.8 288.0,490.0 290.0,488.0 292.0,495.6 293.0,504.8 294.0,495.0 295.3,479.5 295.9,460.0 296.5,447.0 297.4,433.8 298.5,439.8 299.8,443.1 301.1,452.9 302.2,444.2 303.3,440.9 304.7,438.7 305.8,442.0 306.9,445.3 308.0,445.8 309.1,439.3 309.9,448.5 310.7,461.1 311.6,448.5 312.4,439.8 313.1,425.6 314.2,425.1 315.6,427.8 316.7,434.4 317.5,428.9 318.6,431.1 319.5,435.5 320.3,434.4 321.6,450.7 322.7,457.3 323.8,468.2 324.4,471.5 325.1,463.8 326.0,456.2 327.1,456.7 328.2,450.7 329.3,439.8 330.6,431.1 331.5,435.5 332.5,440.9 333.6,435.5 334.7,433.3 335.8,424.5 336.9,427.8 338.0,432.2 338.9,428.9 339.6,432.2 340.7,431.6 341.5,436.0" fill="none" stroke="#F8766D" stroke-width="1.3" stroke-linejoin="round"/>
<polyline points="214.1,508.2 215.0,513.3 215.6,517.1 216.3,508.2 217.2,495.5 217.9,494.2 219.2,498.0 220.7,509.5 221.7,506.3 223.0,510.7 224.5,515.8 225.8,520.9 226.8,522.2 228.4,520.9 229.6,519.6 230.7,510.7 231.5,501.8 232.8,490.4 233.7,486.5 234.7,491.6 235.7,499.3 236.6,505.6 237.9,504.4 239.2,503.7 240.5,495.5 241.7,489.1 242.6,485.3 243.6,491.6 244.9,499.3 246.2,506.9 247.5,513.3 248.7,510.7 250.0,509.5 251.4,513.8 252.8,512.4 254.2,508.2 255.7,502.5 257.1,492.6 258.5,479.8 259.6,484.1 260.6,492.6 261.6,488.0 262.7,496.8 263.5,501.1 264.9,479.8 266.3,478.4 267.3,479.8 268.4,502.5 269.8,495.4 271.0,509.6 272.0,496.8 273.4,502.5 274.4,513.8 275.2,533.7 276.2,509.6 277.2,485.5 278.3,481.2 279.7,486.9 281.2,494.0 282.6,499.7 284.0,503.9 285.1,496.8 286.1,484.1 287.5,482.7 288.5,479.8 289.7,488.3 290.4,492.8 291.2,487.8 292.5,492.8 293.7,486.6 294.7,484.7 295.6,489.1 296.8,502.7 298.1,508.9 299.3,512.6 300.5,517.6 301.8,525.0 302.6,521.3 303.9,520.0 305.1,521.3 306.4,516.3 307.6,512.6 308.8,511.4 310.1,505.2 311.3,492.8 312.3,484.1 313.5,481.6 314.5,478.5 315.4,482.9 316.6,484.1 317.9,490.3 319.1,499.0 320.4,510.1 321.2,520.0 322.0,511.4 323.2,502.7 324.4,500.2 325.3,505.2 325.9,490.3 326.9,475.4 327.7,466.5 329.0,473.0 329.9,480.4 330.6,497.7 331.5,492.8 332.4,489.1 333.4,496.5 334.6,505.2 335.6,500.2 336.8,501.5 338.1,507.7 339.3,512.6 340.6,515.7 341.4,505.2 342.0,493.4" fill="none" stroke="#00BFC4" stroke-width="1.4" stroke-linejoin="round"/>
<line x1="207.40" y1="488.60" x2="347.60" y2="488.60" stroke="#9a9a9a" stroke-width="1.0" stroke-dasharray="3.37 4.28" stroke-dashoffset="-1.20"/>
<line x1="277.50" y1="421.80" x2="277.50" y2="537.00" stroke="#2a2a2a" stroke-width="1.8" stroke-dasharray="13 12"/>
<line x1="207.40" y1="418.70" x2="207.40" y2="538.50" stroke="#3a3a3a" stroke-width="1.2" />
<line x1="207.40" y1="538.50" x2="347.60" y2="538.50" stroke="#3a3a3a" stroke-width="1.2" />
<line x1="204.80" y1="443.60" x2="207.40" y2="443.60" stroke="#3a3a3a" stroke-width="1.0" />
<text transform="translate(202.80,447.10) scale(0.8333,1)" font-size="9.24" text-anchor="end" font-weight="normal" font-style="normal" fill="#262626" >0.6</text>
<line x1="204.80" y1="473.80" x2="207.40" y2="473.80" stroke="#3a3a3a" stroke-width="1.0" />
<text transform="translate(202.80,477.30) scale(0.8333,1)" font-size="9.24" text-anchor="end" font-weight="normal" font-style="normal" fill="#262626" >0.4</text>
<line x1="204.80" y1="504.30" x2="207.40" y2="504.30" stroke="#3a3a3a" stroke-width="1.0" />
<text transform="translate(202.80,507.80) scale(0.8333,1)" font-size="9.24" text-anchor="end" font-weight="normal" font-style="normal" fill="#262626" >0.2</text>
<line x1="204.80" y1="534.80" x2="207.40" y2="534.80" stroke="#3a3a3a" stroke-width="1.0" />
<text transform="translate(202.80,538.30) scale(0.8333,1)" font-size="9.24" text-anchor="end" font-weight="normal" font-style="normal" fill="#262626" >0.0</text>
<line x1="277.50" y1="538.50" x2="277.50" y2="540.90" stroke="#2a2a2a" stroke-width="1.0" />
<line x1="210.50" y1="538.50" x2="210.50" y2="540.70" stroke="#3a3a3a" stroke-width="1.0" />
<text transform="translate(210.50,549.20) scale(0.8333,1)" font-size="8.88" text-anchor="middle" font-weight="normal" font-style="normal" fill="#262626" >10.9</text>
<line x1="242.60" y1="538.50" x2="242.60" y2="540.70" stroke="#3a3a3a" stroke-width="1.0" />
<text transform="translate(242.60,549.20) scale(0.8333,1)" font-size="8.88" text-anchor="middle" font-weight="normal" font-style="normal" fill="#262626" >11.0</text>
<line x1="274.70" y1="538.50" x2="274.70" y2="540.70" stroke="#3a3a3a" stroke-width="1.0" />
<text transform="translate(274.70,549.20) scale(0.8333,1)" font-size="8.88" text-anchor="middle" font-weight="normal" font-style="normal" fill="#262626" >11.1</text>
<line x1="306.80" y1="538.50" x2="306.80" y2="540.70" stroke="#3a3a3a" stroke-width="1.0" />
<text transform="translate(306.80,549.20) scale(0.8333,1)" font-size="8.88" text-anchor="middle" font-weight="normal" font-style="normal" fill="#262626" >11.2</text>
<line x1="338.90" y1="538.50" x2="338.90" y2="540.70" stroke="#3a3a3a" stroke-width="1.0" />
<text transform="translate(338.90,549.20) scale(0.8333,1)" font-size="8.88" text-anchor="middle" font-weight="normal" font-style="normal" fill="#262626" >11.3</text>
<text transform="translate(349.80,549.20) scale(0.8333,1)" font-size="8.88" text-anchor="start" font-weight="normal" font-style="normal" fill="#262626" >(Mb)</text>
<text transform="translate(278.00,560.00) scale(0.8333,1)" font-size="9.12" text-anchor="middle" font-weight="normal" font-style="normal" fill="#262626" >Chr.10</text>
<text transform="translate(189.40,490.00) rotate(-90) scale(0.8333,1)" font-size="9.36" fill="#262626"><tspan font-style="italic">F</tspan><tspan font-size="8.40" dy="1.8">ST</tspan></text>
<text transform="translate(255.00,419.90) scale(0.8333,1)" font-size="9.06" text-anchor="start" font-weight="normal" font-style="normal" fill="#262626" >Os10g0361000</text>
<line x1="201.80" y1="396.90" x2="211.70" y2="396.90" stroke="#F8766D" stroke-width="1.3" />
<line x1="201.80" y1="406.10" x2="211.70" y2="406.10" stroke="#00BFC4" stroke-width="1.3" />
<text x="217.10" y="399.00" font-size="8.08" text-anchor="start" font-weight="normal" font-style="italic" fill="#262626" class="thin">indica/japonica</text>
<text x="217.10" y="408.40" font-size="8.03" text-anchor="start" font-weight="normal" font-style="italic" fill="#262626" class="thin">O.sativa/O.rufipogon</text>
<path d="M255.70,484.60L275.50,484.60M268.50,480.50L276.30,484.60L268.50,488.70" fill="none" stroke="#ff1a1a" stroke-width="1.8"/>
<path d="M255.70,489.40L275.50,489.40M268.50,485.30L276.30,489.40L268.50,493.50" fill="none" stroke="#ff1a1a" stroke-width="1.8"/>
<polyline points="396.0,457.6 396.8,451.1 397.9,453.3 398.7,456.0 399.6,465.8 400.1,475.6 400.9,463.6 402.0,450.5 403.3,440.2 404.7,444.0 405.8,446.2 407.2,456.5 408.3,450.5 409.4,447.3 410.2,437.5 410.9,430.4 412.0,433.1 413.1,435.3 414.0,439.6 414.9,445.6 416.0,440.7 417.1,437.5 417.8,433.1 418.4,430.9 418.9,427.6 419.7,430.9 420.8,432.0 421.9,433.1 422.9,432.5 424.4,433.1 425.5,435.3 426.5,438.5 427.6,447.3 428.7,457.1 429.8,464.7 430.9,468.5 432.0,458.2 433.1,446.2 434.2,439.6 435.3,437.5 436.4,440.7 437.5,447.3 438.5,454.9 439.4,459.3 440.4,452.7 441.5,446.7 442.6,444.5 443.7,446.2 444.9,457.0 445.9,471.9 447.1,458.3 448.6,452.1 449.8,448.4 451.1,452.1 452.3,445.9 453.5,447.1 454.8,457.0 456.0,469.4 457.3,457.0 458.7,447.1 459.7,442.2 461.0,436.0 462.0,427.3 463.2,420.5 464.4,423.6 465.3,429.8 465.9,438.5 466.6,444.7 467.8,442.2 469.0,438.5 470.3,443.4 471.5,440.9 472.8,444.7 474.0,440.9 475.2,442.2 476.5,448.4 477.7,458.3 478.9,464.5 480.2,458.3 481.2,457.8 482.5,474.5 483.1,477.0 484.0,473.2 485.0,464.6 486.2,463.3 487.4,462.1 488.7,464.6 489.9,458.4 491.2,460.8 492.4,469.5 493.0,472.6 494.3,467.0 495.5,460.8 496.7,452.2 498.0,445.4 499.2,449.7 500.4,454.7 501.3,460.8 502.3,457.1 503.3,465.8 504.2,457.1 505.4,454.7 506.6,444.7 508.5,437.9 509.7,442.3 511.0,447.2 512.0,452.2 512.8,442.3 514.1,436.1 515.3,433.6 516.2,442.3 517.2,452.8 518.4,444.7 519.9,433.6 520.9,439.8 522.1,449.7 523.4,444.7 524.6,435.4 525.6,437.9 526.8,446.0" fill="none" stroke="#F8766D" stroke-width="1.3" stroke-linejoin="round"/>
<polyline points="396.0,503.3 396.6,497.6 397.4,495.9 398.3,496.4 398.9,502.2 399.5,519.4 400.4,513.7 401.6,512.5 402.7,510.8 403.9,513.7 405.0,516.0 406.2,520.6 407.3,513.7 408.5,510.8 409.6,510.8 410.4,516.0 411.6,519.4 412.7,520.6 413.5,522.3 414.4,526.3 415.6,521.7 416.7,518.3 417.7,516.6 418.5,520.6 419.0,529.8 420.2,526.3 421.6,524.0 423.1,525.2 424.8,527.5 426.5,529.2 428.2,530.3 429.1,530.9 430.0,518.3 430.8,506.8 431.4,495.3 431.9,489.8 432.7,494.8 433.7,507.2 435.0,509.7 436.2,507.2 437.2,505.9 438.1,513.4 438.9,517.1 439.9,510.9 441.4,507.2 442.4,509.7 443.6,519.6 444.9,525.8 445.9,527.0 446.7,519.6 447.6,501.0 448.3,494.8 449.2,494.2 450.1,496.0 450.8,502.2 451.3,517.1 452.1,519.6 453.3,518.3 454.5,520.8 455.4,527.0 456.3,519.6 457.3,507.2 458.3,498.5 459.1,494.8 460.0,492.9 461.0,493.5 462.0,501.0 462.8,491.1 463.7,489.8 464.7,492.3 465.9,502.2 466.9,505.9 467.8,503.5 469.0,499.7 470.3,496.0 471.5,492.3 472.8,486.1 474.0,483.0 475.2,484.9 476.5,488.6 477.7,504.7 478.9,515.8 480.2,512.1 481.9,507.8 483.1,519.6 484.7,527.0 486.2,519.6 488.1,514.0 489.3,515.8 490.5,519.6 491.8,523.3 493.0,522.0 494.3,520.2 495.5,515.8 496.7,514.0 498.0,505.9 499.2,501.0 500.4,499.1 501.3,503.5 502.3,509.7 503.5,517.1 504.8,522.0 505.4,523.9 506.3,517.1 507.5,514.6 508.7,510.9 510.0,509.7 511.2,506.6 512.2,508.4 513.2,512.1 514.1,507.2 515.3,505.9 516.2,508.4 517.2,510.9 518.2,501.0 519.0,491.1 519.9,485.5 520.9,494.8 521.9,505.9 522.8,514.0 523.6,510.9 524.6,504.7 525.6,505.9 526.5,512.8" fill="none" stroke="#00BFC4" stroke-width="1.4" stroke-linejoin="round"/>
<line x1="389.70" y1="499.60" x2="533.30" y2="499.60" stroke="#9a9a9a" stroke-width="1.0" stroke-dasharray="3.48 4.42" stroke-dashoffset="-0.50"/>
<line x1="460.50" y1="420.20" x2="460.50" y2="535.00" stroke="#2a2a2a" stroke-width="1.8" stroke-dasharray="12 12.6"/>
<line x1="389.70" y1="414.80" x2="389.70" y2="536.30" stroke="#3a3a3a" stroke-width="1.2" />
<line x1="389.70" y1="536.30" x2="533.30" y2="536.30" stroke="#3a3a3a" stroke-width="1.2" />
<line x1="387.10" y1="442.40" x2="389.70" y2="442.40" stroke="#3a3a3a" stroke-width="1.0" />
<text transform="translate(385.10,445.90) scale(0.8333,1)" font-size="9.24" text-anchor="end" font-weight="normal" font-style="normal" fill="#262626" >0.75</text>
<line x1="387.10" y1="474.40" x2="389.70" y2="474.40" stroke="#3a3a3a" stroke-width="1.0" />
<text transform="translate(385.10,477.90) scale(0.8333,1)" font-size="9.24" text-anchor="end" font-weight="normal" font-style="normal" fill="#262626" >0.50</text>
<line x1="387.10" y1="506.30" x2="389.70" y2="506.30" stroke="#3a3a3a" stroke-width="1.0" />
<text transform="translate(385.10,509.80) scale(0.8333,1)" font-size="9.24" text-anchor="end" font-weight="normal" font-style="normal" fill="#262626" >0.25</text>
<line x1="460.50" y1="536.30" x2="460.50" y2="538.70" stroke="#2a2a2a" stroke-width="1.0" />
<line x1="394.80" y1="536.30" x2="394.80" y2="538.50" stroke="#3a3a3a" stroke-width="1.0" />
<text transform="translate(394.80,547.00) scale(0.8333,1)" font-size="8.88" text-anchor="middle" font-weight="normal" font-style="normal" fill="#262626" >16.5</text>
<line x1="427.00" y1="536.30" x2="427.00" y2="538.50" stroke="#3a3a3a" stroke-width="1.0" />
<text transform="translate(427.00,547.00) scale(0.8333,1)" font-size="8.88" text-anchor="middle" font-weight="normal" font-style="normal" fill="#262626" >16.6</text>
<line x1="459.30" y1="536.30" x2="459.30" y2="538.50" stroke="#3a3a3a" stroke-width="1.0" />
<text transform="translate(459.30,547.00) scale(0.8333,1)" font-size="8.88" text-anchor="middle" font-weight="normal" font-style="normal" fill="#262626" >16.7</text>
<line x1="491.80" y1="536.30" x2="491.80" y2="538.50" stroke="#3a3a3a" stroke-width="1.0" />
<text transform="translate(491.80,547.00) scale(0.8333,1)" font-size="8.88" text-anchor="middle" font-weight="normal" font-style="normal" fill="#262626" >16.8</text>
<line x1="524.40" y1="536.30" x2="524.40" y2="538.50" stroke="#3a3a3a" stroke-width="1.0" />
<text transform="translate(524.40,547.00) scale(0.8333,1)" font-size="8.88" text-anchor="middle" font-weight="normal" font-style="normal" fill="#262626" >16.9</text>
<text transform="translate(531.40,547.50) scale(0.8333,1)" font-size="8.88" text-anchor="start" font-weight="normal" font-style="normal" fill="#262626" >(Mb)</text>
<text transform="translate(463.80,559.30) scale(0.8333,1)" font-size="9.12" text-anchor="middle" font-weight="normal" font-style="normal" fill="#262626" >Chr.10</text>
<text transform="translate(364.50,482.00) rotate(-90) scale(0.8333,1)" font-size="9.36" fill="#262626"><tspan font-style="italic">F</tspan><tspan font-size="8.40" dy="1.8">ST</tspan></text>
<text transform="translate(441.20,416.20) scale(0.8333,1)" font-size="9.06" text-anchor="start" font-weight="normal" font-style="normal" fill="#262626" >Os10g0456800</text>
<line x1="384.40" y1="398.10" x2="393.50" y2="398.10" stroke="#F8766D" stroke-width="1.3" />
<line x1="384.40" y1="406.40" x2="393.50" y2="406.40" stroke="#00BFC4" stroke-width="1.3" />
<text x="397.50" y="400.20" font-size="8.19" text-anchor="start" font-weight="normal" font-style="italic" fill="#262626" class="thin">indica/japonica</text>
<text x="397.50" y="408.70" font-size="8.14" text-anchor="start" font-weight="normal" font-style="italic" fill="#262626" class="thin">O.sativa/O.rufipogon</text>
<path d="M436.20,441.20L456.80,441.20M449.80,437.10L457.60,441.20L449.80,445.30" fill="none" stroke="#ff1a1a" stroke-width="1.8"/>
<path d="M436.80,493.30L457.00,493.30M450.00,489.20L457.80,493.30L450.00,497.40" fill="none" stroke="#ff1a1a" stroke-width="1.8"/>
</svg>
</body></html>
